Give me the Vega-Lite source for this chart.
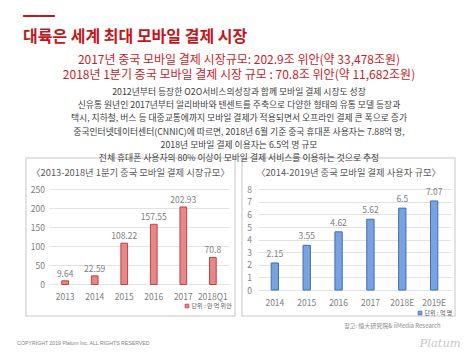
{
  "$schema": "https://vega.github.io/schema/vega-lite/v6.json",
  "background": "white",
  "padding": {"left": 17, "top": 8, "right": 0, "bottom": 0},
  "title": {"text": ["━━", "대륙은 세계 최대 모바일 결제 시장"], "font": "Noto Sans CJK KR", "fontSize": 16, "fontWeight": "bold", "color": "#c3161c", "anchor": "start", "dx": 5.7, "offset": 9, "lineHeight": 20},
  "resolve": {"scale": {"color": "independent"}, "legend": {"color": "independent"}},
  "vconcat": [
    {
      "title": {
        "text": ["2017년 중국 모바일 결제 시장규모: 202.9조 위안(약 33,478조원)", "2018년 1분기 중국 모바일 결제 시장 규모 : 70.8조 위안(약  11,682조원)"],
        "subtitle": ["2012년부터 등장한 O2O서비스의성장과 함께 모바일 결제 시장도 성장", "신유통 원년인 2017년부터 알리바바와 텐센트를 주축으로 다양한 형태의 유통 모델 등장과", "택시, 지하철, 버스 등 대중교통에까지 모바일 결제가 적용되면서 오프라인 결제 큰 폭으로 증가", "중국인터넷데이터센터(CNNIC)에 따르면, 2018년 6월 기준 중국 휴대폰 사용자는 7.88억 명,", "2018년 모바일 결제 이용자는 6.5억 명 규모", "전체 휴대폰 사용자의 80% 이상이 모바일 결제 서비스를 이용하는 것으로 추정"],
        "anchor": "middle", "font": "Noto Sans CJK KR", "fontSize": 12, "fontWeight": "normal", "color": "#c41e2a", "lineHeight": 15.5,
        "subtitleFont": "Noto Sans CJK KR", "subtitleFontSize": 8.8, "subtitleColor": "#404040", "subtitleLineHeight": 13.2, "subtitlePadding": 5.5, "offset": -6.5
      },
      "resolve": {"scale": {"color": "independent"}, "legend": {"color": "independent"}},
      "vconcat": [
        {
          "title": {"text": "Platum", "orient": "bottom", "anchor": "end", "font": "DejaVu Serif", "fontStyle": "italic", "fontSize": 11.5, "fontWeight": "normal", "color": "#c8c8c8", "dx": 5, "offset": -8},
          "spacing": 5,
          "resolve": {"scale": {"color": "independent"}, "legend": {"color": "independent"}},
          "hconcat": [
            {
              "title": {"text": "COPYRIGHT 2019 Platum Inc. ALL RIGHTS RESERVED", "orient": "bottom", "anchor": "start", "font": "Liberation Sans", "fontSize": 5.2, "fontWeight": "normal", "color": "#7f7f7f", "dx": -8, "offset": 24.5},
              "resolve": {"scale": {"color": "independent"}, "legend": {"color": "independent"}},
              "vconcat": [
                {
                  "width": 209,
                  "height": 158,
                  "title": {"text": "〈2013-2018년 1분기 중국 모바일 결제 시장규모〉", "offset": -20, "fontSize": 9.3, "fontWeight": "normal", "color": "#595959", "anchor": "middle", "font": "Noto Sans CJK KR"},
                  "data": {"values": [
                    {"year": "2013", "value": 9.64, "series": "단위 : 만 억 위안"},
                    {"year": "2014", "value": 22.59, "series": "단위 : 만 억 위안"},
                    {"year": "2015", "value": 108.22, "series": "단위 : 만 억 위안"},
                    {"year": "2016", "value": 157.55, "series": "단위 : 만 억 위안"},
                    {"year": "2017", "value": 202.93, "series": "단위 : 만 억 위안"},
                    {"year": "2018Q1", "value": 70.8, "series": "단위 : 만 억 위안"}
                  ]},
                  "encoding": {
                    "x": {"field": "year", "type": "ordinal", "sort": null, "scale": {"range": [23, 203], "paddingInner": 0.773, "paddingOuter": 0.433}, "axis": {"title": null, "labelPadding": -24}},
                    "y": {"field": "value", "type": "quantitative", "scale": {"domain": [-82.5, 331.2], "nice": false, "zero": false}, "axis": {"title": null, "values": [0, 50, 100, 150, 200, 250], "labelPadding": -18.5}}
                  },
                  "layer": [
                    {
                      "mark": {"type": "bar", "stroke": "#b8463f", "strokeWidth": 1},
                      "encoding": {
                        "y2": {"datum": 0},
                        "color": {"field": "series", "type": "nominal", "scale": {"range": ["#e8868a"]}, "legend": {"title": null, "orient": "none", "legendX": 158, "legendY": 145, "symbolStrokeColor": "#b8463f"}}
                      }
                    },
                    {
                      "mark": {"type": "text", "baseline": "alphabetic", "dy": -4, "fontSize": 8.5, "color": "#808080", "font": "Noto Sans CJK KR"},
                      "encoding": {"text": {"field": "value", "type": "quantitative", "format": "~g"}}
                    }
                  ]
                }
              ]
            },
            {
              "title": {"text": "참고: 恒大研究院& iiMedia Research", "orient": "bottom", "anchor": "end", "font": "Noto Sans CJK KR", "fontSize": 6, "fontWeight": "normal", "color": "#8c8c8c", "dx": -15, "offset": 5},
              "resolve": {"scale": {"color": "independent"}, "legend": {"color": "independent"}},
              "vconcat": [
                {
                  "width": 213,
                  "height": 158,
                  "title": {"text": "〈2014-2019년 중국 모바일 결제 사용자 규모〉", "offset": -20, "fontSize": 9.3, "fontWeight": "normal", "color": "#595959", "anchor": "middle", "font": "Noto Sans CJK KR"},
                  "data": {"values": [
                    {"year": "2014", "value": 2.15, "series": "단위 : 억 명"},
                    {"year": "2015", "value": 3.55, "series": "단위 : 억 명"},
                    {"year": "2016", "value": 4.62, "series": "단위 : 억 명"},
                    {"year": "2017", "value": 5.62, "series": "단위 : 억 명"},
                    {"year": "2018E", "value": 6.5, "series": "단위 : 억 명"},
                    {"year": "2019E", "value": 7.07, "series": "단위 : 억 명"}
                  ]},
                  "encoding": {
                    "x": {"field": "year", "type": "ordinal", "sort": null, "scale": {"range": [16, 209], "paddingInner": 0.77, "paddingOuter": 0.414}, "axis": {"title": null, "labelPadding": -17.5}},
                    "y": {"field": "value", "type": "quantitative", "scale": {"domain": [-2.06, 10.48], "nice": false, "zero": false}, "axis": {"title": null, "values": [0, 1, 2, 3, 4, 5, 6, 7, 8], "labelPadding": -9.5}}
                  },
                  "layer": [
                    {
                      "mark": {"type": "bar", "stroke": "#3f6db0", "strokeWidth": 1},
                      "encoding": {
                        "y2": {"datum": 0},
                        "color": {"field": "series", "type": "nominal", "scale": {"range": ["#7aa3dd"]}, "legend": {"title": null, "orient": "none", "legendX": 175, "legendY": 152, "symbolStrokeColor": "#3f6db0"}}
                      }
                    },
                    {
                      "mark": {"type": "text", "baseline": "alphabetic", "dy": -6, "fontSize": 8.5, "color": "#808080", "font": "Noto Sans CJK KR"},
                      "encoding": {"text": {"field": "value", "type": "quantitative", "format": "~g"}}
                    }
                  ]
                }
              ]
            }
          ]
        }
      ]
    }
  ],
  "config": {
    "font": "Noto Sans CJK KR",
    "view": {"stroke": "#d9d9d9", "strokeWidth": 1.5},
    "axis": {"domain": false, "ticks": false, "tickSize": 0, "labelColor": "#808080", "labelFontSize": 8.5, "labelFont": "Noto Sans CJK KR", "gridColor": "#e3e3e3", "gridWidth": 1},
    "axisX": {"grid": false, "labelAngle": 0, "labelBaseline": "top"},
    "axisY": {"grid": true, "labelAlign": "right", "labelBaseline": "middle"},
    "legend": {"padding": 0, "labelFontSize": 6, "labelColor": "#595959", "labelFont": "Noto Sans CJK KR", "symbolType": "square", "symbolSize": 14, "symbolStrokeWidth": 0.8, "labelOffset": 1.5}
  }
}
